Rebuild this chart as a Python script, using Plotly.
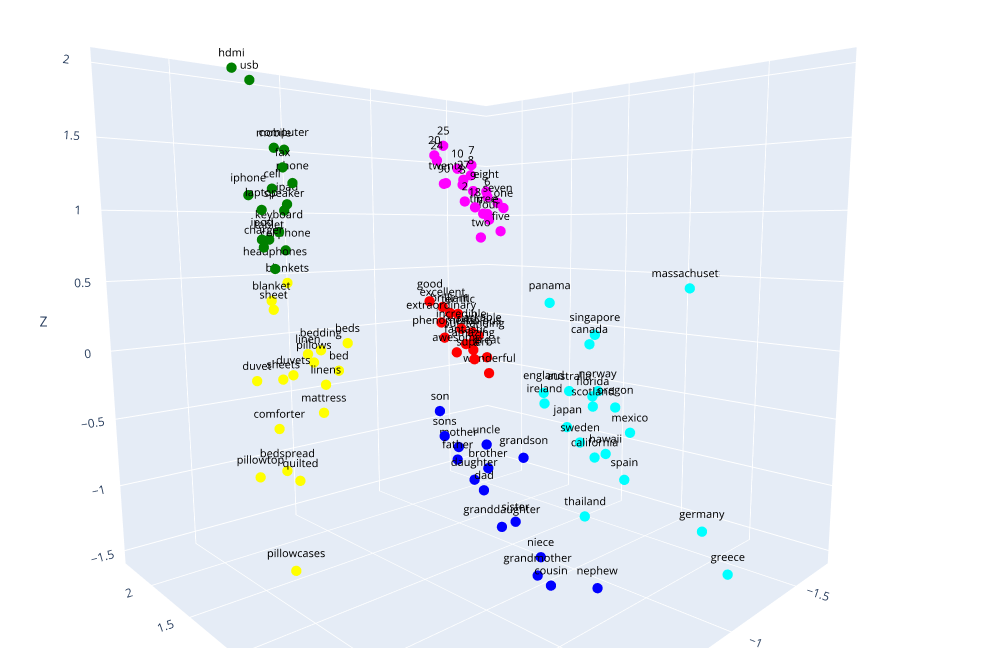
import plotly.graph_objects as go

# electronics (green)
g_words = ["hdmi","usb","mobile","computer","fax","phone","cell","iphone","laptop","speaker","ipad","ipod","keyboard","tablet","charger","cellphone","headphones"]
g_x = [2.0,2.07,1.87,1.93,1.73,1.8,1.73,1.73,1.67,1.73,1.87,1.6,1.67,1.6,1.53,1.73,1.6]
g_y = [-0.13,-0.23,-0.25,-0.32,-0.23,-0.30,-0.18,-0.08,-0.11,-0.23,-0.30,-0.08,-0.18,-0.11,-0.06,-0.23,-0.13]
g_z = [2.0,1.95,1.45,1.45,1.3,1.2,1.15,1.1,1.0,1.0,1.05,0.8,0.85,0.8,0.75,0.72,0.6]

# bedding (yellow)
y_words = ["blankets","blanket","sheet","linen","bedding","duvet","sheets","duvets","pillows","linens","bed","beds","mattress","comforter","pillowtop","bedspread","quilted","pillowcases"]
y_x = [1.6,1.47,1.4,1.53,1.6,1.2,1.33,1.4,1.47,1.4,1.53,1.73,1.27,1.13,1.07,1.07,1.0,0.67]
y_y = [-0.18,-0.06,-0.04,-0.23,-0.32,0.11,-0.04,-0.11,-0.23,-0.25,-0.37,-0.51,-0.18,0.06,0.16,0.06,0.04,0.20]
y_z = [0.5,0.4,0.35,0.0,0.0,-0.05,-0.1,-0.1,-0.05,-0.2,-0.15,0.0,-0.35,-0.35,-0.6,-0.6,-0.65,-1.0]

# numbers (magenta)
m_words = ["25","20","24","10","7","8","27","twenty","90","3","9","eight","2","6","seven","18","three","nine","five","two","four","one"]
m_x = [2.0,1.93,1.87,1.93,2.0,1.93,1.87,1.73,1.8,1.8,1.8,1.8,1.67,1.73,1.73,1.6,1.67,1.73,1.6,1.47,1.67,1.6]
m_y = [-1.23,-1.13,-1.11,-1.28,-1.42,-1.37,-1.28,-1.08,-1.11,-1.23,-1.30,-1.39,-1.16,-1.35,-1.42,-1.18,-1.28,-1.35,-1.35,-1.13,-1.32,-1.37]
m_z = [1.6,1.5,1.45,1.4,1.45,1.35,1.3,1.25,1.25,1.25,1.2,1.2,1.1,1.15,1.1,1.05,1.0,1.0,0.85,0.8,0.95,1.05]

# adjectives (red)
r_words = ["good","excellent","brilliant","extraordinary","phenomenal","terrific","remarkable","incredible","awesome","fantastic","amazing","great","wonderful","outstanding","superb","fabulous"]
r_x = [1.2,1.2,1.2,1.13,1.07,1.13,1.13,1.07,1.0,1.0,1.0,0.93,0.87,1.07,0.93,1.0]
r_y = [-0.66,-0.73,-0.77,-0.68,-0.66,-0.77,-0.85,-0.75,-0.68,-0.73,-0.77,-0.80,-0.77,-0.82,-0.73,-0.80]
r_z = [0.35,0.3,0.25,0.2,0.1,0.25,0.1,0.15,0.0,0.05,0.0,-0.05,-0.15,0.05,-0.05,0.1]

# countries (cyan)
c_words = ["panama","massachusetts","canada","singapore","england","ireland","australia","florida","norway","scotland","oregon","japan","mexico","sweden","california","hawaii","spain","thailand","germany","greece"]
c_x = [0.93,0.4,0.67,0.73,0.67,0.6,0.6,0.53,0.6,0.47,0.47,0.47,0.33,0.4,0.33,0.33,0.2,0.2,-0.13,-0.33]
c_y = [-1.18,-1.70,-1.23,-1.32,-0.94,-0.89,-1.04,-1.13,-1.23,-1.08,-1.23,-0.92,-1.20,-0.94,-0.97,-1.04,-1.04,-0.80,-1.23,-1.18]
c_z = [0.3,0.4,0.0,0.05,-0.3,-0.35,-0.3,-0.35,-0.35,-0.4,-0.45,-0.5,-0.6,-0.6,-0.7,-0.7,-0.85,-1.0,-1.2,-1.4]

# family (blue)
b_words = ["son","sons","mother","father","uncle","daughter","brother","grandson","dad","granddaughter","sister","niece","grandmother","cousin","nephew","aunt"]
b_x = [0.87,0.8,0.8,0.73,0.73,0.6,0.6,0.6,0.53,0.4,0.4,0.2,0.13,0.07,0.0,-0.4]
b_y = [-0.51,-0.49,-0.56,-0.51,-0.66,-0.51,-0.58,-0.77,-0.51,-0.51,-0.58,-0.56,-0.49,-0.51,-0.70,-0.46]
b_z = [-0.35,-0.5,-0.6,-0.65,-0.6,-0.75,-0.7,-0.7,-0.8,-1.0,-1.0,-1.15,-1.2,-1.25,-1.35,-1.6]

groups = [
    (g_words, g_x, g_y, g_z, "green"),
    (y_words, y_x, y_y, y_z, "yellow"),
    (m_words, m_x, m_y, m_z, "magenta"),
    (r_words, r_x, r_y, r_z, "red"),
    (c_words, c_x, c_y, c_z, "cyan"),
    (b_words, b_x, b_y, b_z, "blue"),
]

fig = go.Figure()
for words, xs, ys, zs, col in groups:
    fig.add_trace(go.Scatter3d(
        x=xs, y=ys, z=zs, text=words, mode="markers+text",
        textposition="top center",
        textfont=dict(size=11, color="black"),
        marker=dict(size=6, color=col),
        showlegend=False))

fig.update_layout(
    width=1008, height=648,
    margin=dict(l=0, r=0, t=0, b=0),
    scene=dict(
        aspectmode="cube",
        xaxis=dict(title="X", range=[-0.5, 2.4]),
        yaxis=dict(title="Y", range=[-1.8, 0.3]),
        zaxis=dict(title="Z", range=[-1.6, 2.1]),
        camera=dict(eye=dict(x=-1.11, y=1.01, z=0.17), center=dict(x=-0.05, y=-0.05, z=-0.03)),
    ),
)
fig.write_html("out.html")
